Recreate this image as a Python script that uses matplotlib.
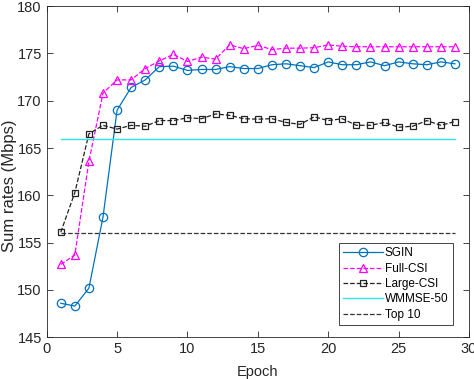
import numpy as np
import matplotlib
matplotlib.use('Agg')
import matplotlib.pyplot as plt

plt.rcParams['font.family'] = ['Liberation Sans', 'DejaVu Sans']

epochs = list(range(1, 30))
sgin = [148.6, 148.3, 150.2, 157.7, 169.0, 171.4, 172.2, 173.6, 173.65, 173.2,
        173.3, 173.3, 173.6, 173.4, 173.4, 173.8, 173.9, 173.7, 173.5, 174.1,
        173.8, 173.8, 174.1, 173.7, 174.1, 173.9, 173.8, 174.1, 173.9]
full_csi = [152.7, 153.7, 163.6, 170.8, 172.2, 172.2, 173.4, 174.2, 174.9, 174.15,
            174.6, 174.4, 175.9, 175.5, 175.85, 175.4, 175.55, 175.55, 175.6, 175.9,
            175.75, 175.7, 175.7, 175.7, 175.7, 175.7, 175.7, 175.7, 175.7]
large_csi = [156.1, 160.3, 166.5, 167.4, 167.0, 167.4, 167.3, 167.9, 167.9, 168.2,
             168.1, 168.6, 168.45, 168.1, 168.05, 168.1, 167.7, 167.5, 168.3, 167.9,
             168.1, 167.4, 167.4, 167.7, 167.2, 167.3, 167.9, 167.4, 167.8]
wmmse_50 = 166.0
top_10 = 156.0

fig = plt.figure(figsize=(4.74, 3.79), dpi=100)
ax = fig.add_axes([0.0985, 0.11, 0.891, 0.874])

ax.plot(epochs, sgin, '-o', color='#0072BD', lw=0.9, ms=6, mfc='none', mew=0.9, label='SGIN')
ax.plot(epochs, full_csi, '--^', color='#FF00FF', lw=0.9, ms=6, mfc='none', mew=0.9, label='Full-CSI')
ax.plot(epochs, large_csi, '--s', color='#222222', lw=0.9, ms=3.8, mfc='none', mew=0.9, label='Large-CSI')
ax.plot([epochs[0], epochs[-1]], [wmmse_50, wmmse_50], '-', color='#2EE6E6', lw=1.0, label='WMMSE-50')
ax.plot([epochs[0], epochs[-1]], [top_10, top_10], '--', color='#333333', lw=0.9, label='Top 10')

ax.set_xlim(0, 30)
ax.set_ylim(145, 180)
ax.set_xticks(range(0, 31, 5))
ax.set_yticks(range(145, 181, 5))
ax.tick_params(direction='in', top=True, right=True, labelsize=10.5, length=4, width=0.6, colors='#262626')
for s in ax.spines.values():
    s.set_linewidth(0.6)
    s.set_color('#262626')
ax.set_xlabel('Epoch', fontsize=10.5, color='#262626', labelpad=6)
ax.set_ylabel('Sum rates (Mbps)', fontsize=12, color='#262626')
ax.yaxis.set_label_coords(-0.089, 0.457)
ax.yaxis.label.set_verticalalignment('center')

leg = ax.legend(loc='lower right', bbox_to_anchor=(0.961, 0.037), fontsize=8.5,
                fancybox=False, framealpha=1, edgecolor='#262626',
                handlelength=3.4, handletextpad=0.15, borderpad=0.35, labelspacing=0.29,
                borderaxespad=0)
leg.get_frame().set_linewidth(0.6)

fig.savefig('out.png', dpi=100)
